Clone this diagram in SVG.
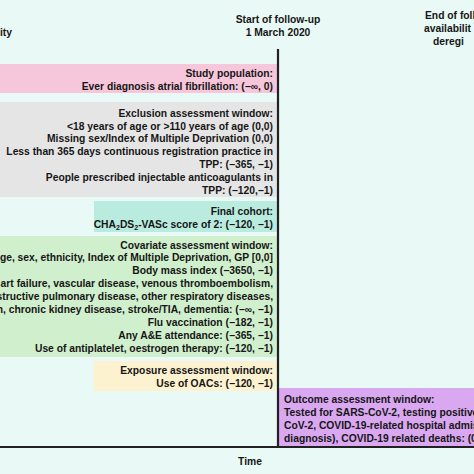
<svg xmlns="http://www.w3.org/2000/svg" width="474" height="474" viewBox="0 0 474 474">
<style>
text{font-family:"Liberation Sans",Arial,sans-serif;font-weight:700;font-size:10.3px;fill:#161616}
.r{text-anchor:end}
.c{text-anchor:middle}
.sub{font-size:7px}
.axis{stroke:#222;stroke-width:2.2;fill:none}
</style>
<rect x="0" y="0" width="474" height="474" fill="#e9f9f5"/>
<g id="headers">
<text x="12" y="36" class="r">ity</text>
<text x="278" y="23" class="c">Start of follow-up</text>
<text x="278" y="36" class="c">1 March 2020</text>
<text x="425" y="19">End of foll</text>
<text x="424" y="32">availabilit</text>
<text x="433" y="45">deregi</text>
</g>
<g id="study-population">
<rect x="0" y="64" width="278" height="29" fill="#f6c7db"/>
<text x="273" y="76.5" class="r">Study population:</text>
<text x="273" y="89.5" class="r">Ever diagnosis atrial fibrillation: (−∞, 0)</text>
</g>
<g id="exclusion">
<rect x="0" y="102" width="278" height="95" fill="#e5e5e5"/>
<text x="273" y="116.5" class="r">Exclusion assessment window:</text>
<text x="273" y="129.5" class="r">&lt;18 years of age or &gt;110 years of age (0,0)</text>
<text x="273" y="142.3" class="r">Missing sex/Index of Multiple Deprivation (0,0)</text>
<text x="273" y="155.1" class="r">Less than 365 days continuous registration practice in</text>
<text x="273" y="167.9" class="r">TPP: (−365, −1)</text>
<text x="273" y="180.7" class="r">People prescribed injectable anticoagulants in</text>
<text x="273" y="193.5" class="r">TPP: (−120,−1)</text>
</g>
<g id="final-cohort">
<rect x="94" y="201" width="184" height="31" fill="#b9ecdf"/>
<text x="273" y="214.5" class="r">Final cohort:</text>
<text x="273" y="227.5" class="r">CHA<tspan class="sub" dy="2">2</tspan><tspan dy="-2">DS</tspan><tspan class="sub" dy="2">2</tspan><tspan dy="-2">-VASc score of 2: (−120, −1)</tspan></text>
</g>
<g id="covariate">
<rect x="0" y="236" width="278" height="121" fill="#d0efcc"/>
<text x="273" y="248.5" class="r">Covariate assessment window:</text>
<text x="273" y="261.4" class="r">ge, sex, ethnicity, Index of Multiple Deprivation, GP [0,0]</text>
<text x="273" y="274.3" class="r">Body mass index (−3650, −1)</text>
<text x="273" y="287.2" class="r">art failure, vascular disease, venous thromboembolism,</text>
<text x="273" y="300.1" class="r">structive pulmonary disease, other respiratory diseases,</text>
<text x="273" y="313" class="r">n, chronic kidney disease, stroke/TIA, dementia: (−∞, −1)</text>
<text x="273" y="325.9" class="r">Flu vaccination (−182, −1)</text>
<text x="273" y="338.8" class="r">Any A&amp;E attendance: (−365, −1)</text>
<text x="273" y="351.7" class="r">Use of antiplatelet, oestrogen therapy: (−120, −1)</text>
</g>
<g id="exposure">
<rect x="94" y="361" width="184" height="30" fill="#fdf2d0"/>
<text x="273" y="373.5" class="r">Exposure assessment window:</text>
<text x="273" y="386.5" class="r">Use of OACs: (−120, −1)</text>
</g>
<g id="outcome">
<rect x="278" y="388" width="196" height="59" fill="#d9a8f0"/>
<text x="284" y="402.5">Outcome assessment window:</text>
<text x="284" y="415.5">Tested for SARS-CoV-2, testing positive</text>
<text x="284" y="428.5">CoV-2, COVID-19-related hospital admis</text>
<text x="284" y="441.5">diagnosis), COVID-19 related deaths: (0</text>
</g>
<g id="connectors">
<line class="axis" x1="278" y1="49" x2="278" y2="447"/>
<line class="axis" x1="0" y1="447" x2="474" y2="447"/>
</g>
<g id="axis-label">
<text x="250" y="465" class="c">Time</text>
</g>
</svg>
